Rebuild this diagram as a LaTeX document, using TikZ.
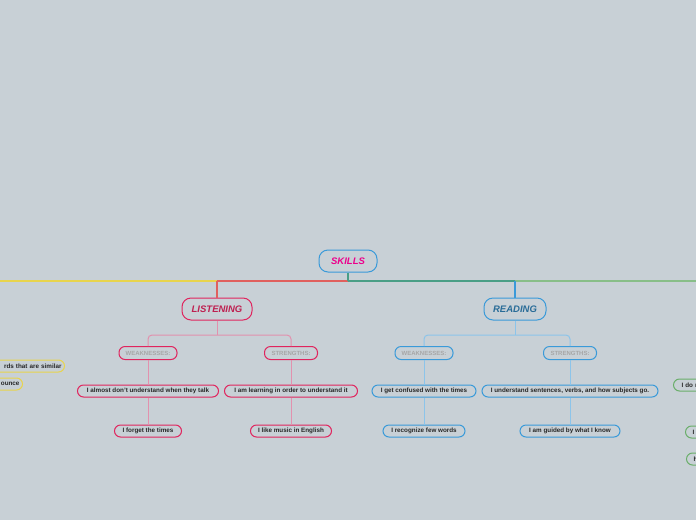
\documentclass[tikz,border=0pt]{standalone}
\usepackage{fontspec}
\setmainfont{Liberation Sans}
\definecolor{bg}{HTML}{C8D0D6}
\definecolor{lred}{HTML}{E0245E}
\definecolor{lpink}{HTML}{E291AE}
\definecolor{rblue}{HTML}{3A9AD9}
\definecolor{rlblue}{HTML}{8CC4EA}
\definecolor{ylw}{HTML}{E8D44D}
\definecolor{grn}{HTML}{6AAE6A}
\definecolor{teal}{HTML}{4A9E86}
\definecolor{rbus}{HTML}{E0605E}
\begin{document}
\begin{tikzpicture}[x=1pt,y=-1pt,
 box/.style={draw,rounded corners=6pt,line width=1pt,fill=bg,inner sep=0pt,minimum height=12pt,font=\fontsize{6.3}{7}\selectfont\bfseries,text=black!85},
 cat/.style={box,minimum height=13pt,text=gray!70,font=\fontsize{6}{7}\selectfont\bfseries},
 main/.style={draw,rounded corners=9pt,line width=1pt,fill=bg,minimum height=22pt,inner sep=0pt,font=\fontsize{9.5}{10}\selectfont\bfseries\itshape}]
\fill[bg] (0,0) rectangle (696,520);
\useasboundingbox (0,0) rectangle (696,520);
\draw[ylw,line width=1.3pt] (0,281) -- (217,281);
\draw[rbus,line width=1.3pt] (217,281) -- (348,281);
\draw[teal,line width=1.3pt] (348,281) -- (515,281);
\draw[grn!80,line width=1.3pt] (515,281) -- (696,281);
\node[main,draw=rblue,text=magenta,minimum width=58pt] (sk) at (348,261) {SKILLS};
\draw[teal,line width=1.3pt] (sk.south) -- (348,281);
\node[main,draw=lred,text=lred!85!black,minimum width=70pt] (li) at (217,309) {LISTENING};
\node[main,draw=rblue,text=rblue!70!black,minimum width=62pt] (re) at (515,309) {READING};
\draw[rbus,line width=1.3pt] (li.north) -- (217,281);
\draw[rblue,line width=1.3pt] (re.north) -- (515,281);
\node[cat,draw=lred,minimum width=58pt] (lw) at (148,353) {WEAKNESSES:};
\node[cat,draw=lred,minimum width=53pt] (ls) at (291,353) {STRENGTHS:};
\draw[lpink,line width=1pt,rounded corners=4pt] (lw.north) |- (217,335) -| (ls.north);
\draw[lpink,line width=1pt] (li.south) -- (217,335);
\node[box,draw=lred,minimum width=141pt] (l1) at (148,391) {I almost don't understand when they talk};
\node[box,draw=lred,minimum width=67pt] (l2) at (148,431) {I forget the times};
\node[box,draw=lred,minimum width=133pt] (l3) at (291,391) {I am learning in order to understand it};
\node[box,draw=lred,minimum width=81pt] (l4) at (291,431) {I like music in English};
\draw[lpink,line width=1pt] (lw) -- (l1) (l1) -- (l2) (ls) -- (l3) (l3) -- (l4);
\node[cat,draw=rblue,minimum width=58pt] (rw) at (424,353) {WEAKNESSES:};
\node[cat,draw=rblue,minimum width=53pt] (rs) at (570,353) {STRENGTHS:};
\draw[rlblue,line width=1pt,rounded corners=4pt] (rw.north) |- (515,335) -| (rs.north);
\draw[rlblue,line width=1pt] (re.south) -- (515,335);
\node[box,draw=rblue,minimum width=104pt] (r1) at (424,391) {I get confused with the times};
\node[box,draw=rblue,minimum width=82pt] (r2) at (424,431) {I recognize few words};
\node[box,draw=rblue,minimum width=176pt] (r3) at (570,391) {I understand sentences, verbs, and how subjects go.};
\node[box,draw=rblue,minimum width=100pt] (r4) at (570,431) {I am guided by what I know};
\draw[rlblue,line width=1pt] (rw) -- (r1) (r1) -- (r2) (rs) -- (r3) (r3) -- (r4);
\node[box,draw=ylw,anchor=east,minimum width=100pt,align=right,text width=94pt] (y1) at (65,366) {\hfill rds that are similar};
\node[box,draw=ylw,anchor=east,minimum width=60pt,align=right,text width=54pt] (y2) at (23,384) {\hfill ounce};
\node[box,draw=grn,anchor=west,minimum width=60pt,text width=52pt] (g1) at (673,385) {\hspace{4pt}I do n};
\node[box,draw=grn,anchor=west,minimum width=40pt,text width=32pt] (g2) at (685,432) {\hspace{3pt}I};
\node[box,draw=grn,anchor=west,minimum width=40pt,text width=32pt] (g3) at (686,459) {\hspace{3pt}h};
\end{tikzpicture}
\end{document}
